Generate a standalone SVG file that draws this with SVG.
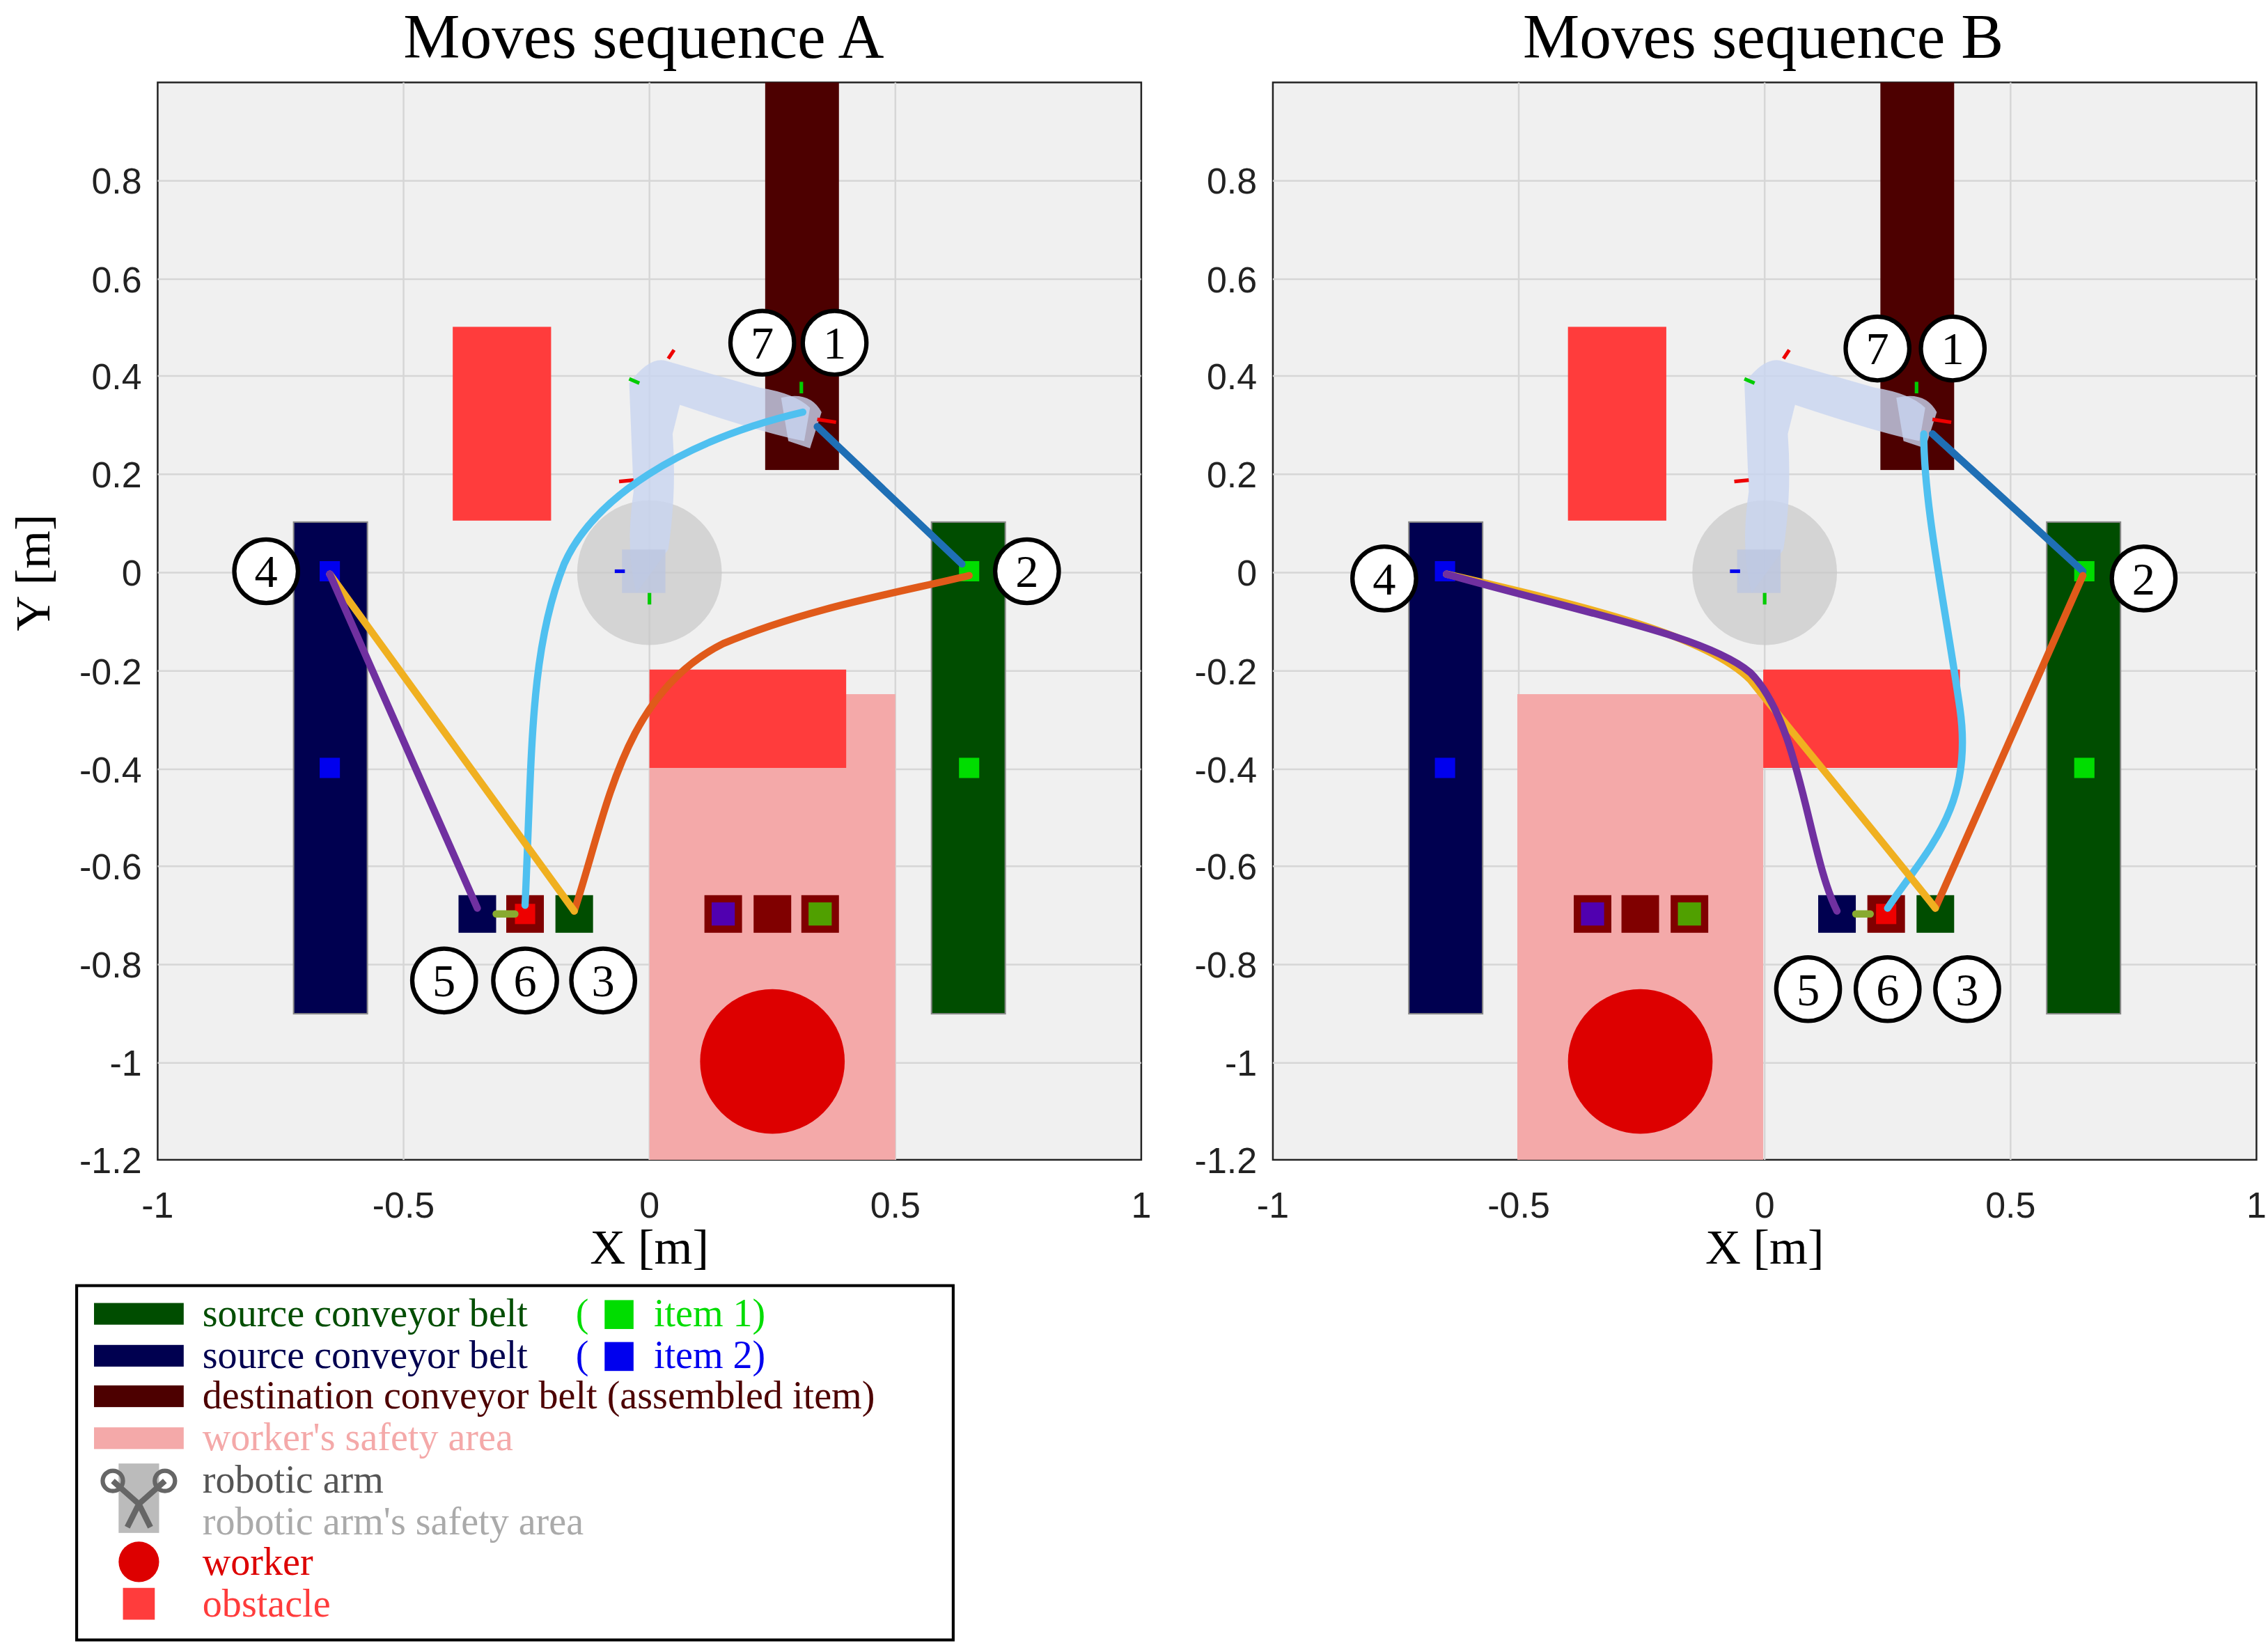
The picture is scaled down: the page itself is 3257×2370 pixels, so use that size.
<svg xmlns="http://www.w3.org/2000/svg" width="3257" height="2370" viewBox="0 0 3257 2370">
<style>
.bg{fill:#f0f0f0;stroke:#222;stroke-width:1.2}
.grid{stroke:#d6d6d6;stroke-width:1.2}
.tick{font-family:"Liberation Sans",Arial,sans-serif;font-size:25px;fill:#222}
.ttl{font-family:"Liberation Serif","Times New Roman",serif;font-size:44px;fill:#000}
.ax{font-family:"Liberation Serif","Times New Roman",serif;font-size:34px;fill:#000}
.lbl circle{fill:#fff;stroke:#000;stroke-width:3}
.lbl text{font-family:"Liberation Serif","Times New Roman",serif;font-size:32px;text-anchor:middle;fill:#000}
.lg{font-family:"Liberation Serif","Times New Roman",serif;font-size:27px}
.p{fill:none;stroke-width:5;stroke-linecap:round}
.arm{fill:#c8d4f0;opacity:0.8}
</style>
<defs>
<g id="grid">
<rect class="bg" x="109" y="57" width="680" height="745"/>
<g class="grid">
<line x1="279" y1="57" x2="279" y2="802"/><line x1="449" y1="57" x2="449" y2="802"/><line x1="619" y1="57" x2="619" y2="802"/>
<line x1="109" y1="125" x2="789" y2="125"/><line x1="109" y1="193" x2="789" y2="193"/><line x1="109" y1="260" x2="789" y2="260"/><line x1="109" y1="328" x2="789" y2="328"/><line x1="109" y1="396" x2="789" y2="396"/><line x1="109" y1="464" x2="789" y2="464"/><line x1="109" y1="532" x2="789" y2="532"/><line x1="109" y1="599" x2="789" y2="599"/><line x1="109" y1="667" x2="789" y2="667"/><line x1="109" y1="735" x2="789" y2="735"/>
</g>
<g class="tick" text-anchor="end">
<text x="98" y="134">0.8</text><text x="98" y="202">0.6</text><text x="98" y="269">0.4</text><text x="98" y="337">0.2</text><text x="98" y="405">0</text><text x="98" y="473">-0.2</text><text x="98" y="541">-0.4</text><text x="98" y="608">-0.6</text><text x="98" y="676">-0.8</text><text x="98" y="744">-1</text><text x="98" y="811">-1.2</text>
</g>
<g class="tick" text-anchor="middle">
<text x="109" y="842">-1</text><text x="279" y="842">-0.5</text><text x="449" y="842">0</text><text x="619" y="842">0.5</text><text x="789" y="842">1</text>
</g>
<text class="ax" x="449" y="874" text-anchor="middle">X [m]</text>
</g>
<g id="common">
<rect x="529" y="57" width="51" height="268" fill="#4d0000"/>
<rect x="203" y="361" width="51" height="340" fill="#000050" stroke="#888" stroke-width="1"/>
<rect x="644" y="361" width="51" height="340" fill="#004d00" stroke="#888" stroke-width="1"/>
<rect x="221" y="388" width="14" height="14" fill="#0000ee"/><rect x="221" y="524" width="14" height="14" fill="#0000ee"/>
<rect x="663" y="388" width="14" height="14" fill="#00dd00"/><rect x="663" y="524" width="14" height="14" fill="#00dd00"/>
<circle cx="449" cy="396" r="50" fill="#c8c8c8" opacity="0.7"/>
<path class="arm" d="M435,265 Q450,245 462,250 L525,268 Q550,272 560,282 L556,305 Q530,300 470,280 L465,300 Q468,340 462,380 L440,410 Q432,380 438,340 Z"/>
<rect x="430" y="380" width="30" height="30" fill="#bcc6e0" opacity="0.8"/>
<path class="arm" d="M540,275 Q560,270 568,285 L560,310 L545,305 Z"/>
<g stroke-width="2.5"><line x1="435" y1="262" x2="442" y2="265" stroke="#00cc00"/><line x1="462" y1="248" x2="466" y2="242" stroke="#ee0000"/><line x1="428" y1="333" x2="438" y2="332" stroke="#ee0000"/><line x1="554" y1="264" x2="554" y2="272" stroke="#00cc00"/><line x1="565" y1="290" x2="578" y2="292" stroke="#ee0000"/><line x1="449" y1="410" x2="449" y2="418" stroke="#00cc00"/><line x1="425" y1="395" x2="432" y2="395" stroke="#0000ee"/></g>
</g>
</defs>

<text class="ttl" x="445" y="40" text-anchor="middle" transform="scale(2.0772)">Moves sequence A</text>
<text class="ttl" x="1219" y="40" text-anchor="middle" transform="scale(2.0772)">Moves sequence B</text>

<g transform="scale(2.0772)">
<g id="plotA">
<use href="#grid"/>
<text class="ax" transform="translate(34,396) rotate(-90)" text-anchor="middle">Y [m]</text>
<rect x="449" y="480" width="170" height="322" fill="#f4a9a9"/>
<rect x="313" y="226" width="68" height="134" fill="#ff3c3c"/>
<rect x="449" y="463" width="136" height="68" fill="#ff3c3c"/>
<circle cx="534" cy="734" r="50" fill="#dd0000"/>
<use href="#common"/>
<rect x="317" y="619" width="26" height="26" fill="#000050"/><rect x="350" y="619" width="26" height="26" fill="#800000"/><rect x="356" y="625" width="14" height="14" fill="#ee0000"/><rect x="384" y="619" width="26" height="26" fill="#004d00"/>
<rect x="487" y="619" width="26" height="26" fill="#800000"/><rect x="492" y="624" width="16" height="16" fill="#5000b0"/><rect x="521" y="619" width="26" height="26" fill="#800000"/><rect x="554" y="619" width="26" height="26" fill="#800000"/><rect x="559" y="624" width="16" height="16" fill="#50a000"/>
</g>
<g id="plotB" transform="translate(771,0)">
<use href="#grid"/>
<rect x="278" y="480" width="170" height="322" fill="#f4a9a9"/>
<rect x="313" y="226" width="68" height="134" fill="#ff3c3c"/>
<rect x="448" y="463" width="136" height="68" fill="#ff3c3c"/>
<circle cx="363" cy="734" r="50" fill="#dd0000"/>
<use href="#common"/>
<rect x="317" y="619" width="26" height="26" fill="#800000"/><rect x="322" y="624" width="16" height="16" fill="#5000b0"/><rect x="350" y="619" width="26" height="26" fill="#800000"/><rect x="384" y="619" width="26" height="26" fill="#800000"/><rect x="389" y="624" width="16" height="16" fill="#50a000"/>
<rect x="486" y="619" width="26" height="26" fill="#000050"/><rect x="520" y="619" width="26" height="26" fill="#800000"/><rect x="526" y="625" width="14" height="14" fill="#ee0000"/><rect x="554" y="619" width="26" height="26" fill="#004d00"/>
</g>
<g id="connectors">
<path class="p" stroke="#4fc0f0" d="M363,626 C368,520 366,450 390,390 C410,345 470,305 555,285"/>
<path class="p" stroke="#1f6fb5" d="M565,295 L665,390"/>
<path class="p" stroke="#e05a1a" d="M397,630 C420,560 430,480 500,445 C560,420 620,410 670,398"/>
<path class="p" stroke="#f0b020" d="M228,397 L397,630"/>
<path class="p" stroke="#7030a0" d="M228,397 L330,628"/>
<path class="p" stroke="#88aa30" d="M343,632 L356,632"/>
<path class="p" stroke="#4fc0f0" d="M1305,628 C1330,590 1365,560 1355,490 C1345,420 1330,350 1330,300"/>
<path class="p" stroke="#1f6fb5" d="M1336,300 L1440,395"/>
<path class="p" stroke="#e05a1a" d="M1338,628 L1440,398"/>
<path class="p" stroke="#f0b020" d="M1000,397 C1100,420 1180,440 1210,470 C1250,520 1300,580 1338,628"/>
<path class="p" stroke="#7030a0" d="M1000,397 C1100,425 1180,440 1210,465 C1245,500 1250,590 1270,630"/>
<path class="p" stroke="#88aa30" d="M1283,632 L1293,632"/>
</g>
<g id="labels" class="lbl">
<circle cx="527" cy="237" r="22"/><text x="527" y="248">7</text>
<circle cx="577" cy="237" r="22"/><text x="577" y="248">1</text>
<circle cx="184" cy="395" r="22"/><text x="184" y="406">4</text>
<circle cx="710" cy="395" r="22"/><text x="710" y="406">2</text>
<circle cx="307" cy="678" r="22"/><text x="307" y="689">5</text>
<circle cx="363" cy="678" r="22"/><text x="363" y="689">6</text>
<circle cx="417" cy="678" r="22"/><text x="417" y="689">3</text>
<circle cx="1298" cy="241" r="22"/><text x="1298" y="252">7</text>
<circle cx="1350" cy="241" r="22"/><text x="1350" y="252">1</text>
<circle cx="957" cy="400" r="22"/><text x="957" y="411">4</text>
<circle cx="1482" cy="400" r="22"/><text x="1482" y="411">2</text>
<circle cx="1250" cy="684" r="22"/><text x="1250" y="695">5</text>
<circle cx="1305" cy="684" r="22"/><text x="1305" y="695">6</text>
<circle cx="1360" cy="684" r="22"/><text x="1360" y="695">3</text>
</g>
<g id="legend">
<rect x="53" y="889" width="606" height="245" fill="#fff" stroke="#000" stroke-width="2"/>
<rect x="65" y="901" width="62" height="15" fill="#004d00"/>
<rect x="65" y="930" width="62" height="15" fill="#000050"/>
<rect x="65" y="958" width="62" height="15" fill="#4d0000"/>
<rect x="65" y="987" width="62" height="15" fill="#f4a9a9"/>
<rect x="418" y="899" width="20" height="20" fill="#00dd00"/>
<rect x="418" y="928" width="20" height="20" fill="#0000ee"/>
<g fill="#999"><rect x="82" y="1012" width="28" height="48" fill="#bbb"/><circle cx="78" cy="1024" r="7" fill="none" stroke="#666" stroke-width="3"/><circle cx="114" cy="1024" r="7" fill="none" stroke="#666" stroke-width="3"/><path d="M78,1024 L96,1040 L114,1024 M96,1040 L88,1056 M96,1040 L104,1056" stroke="#666" stroke-width="4" fill="none"/></g>
<circle cx="96" cy="1080" r="14" fill="#dd0000"/>
<rect x="85" y="1098" width="22" height="22" fill="#ff3c3c"/>
<text class="lg" x="140" y="917" fill="#004d00">source conveyor belt</text><text class="lg" x="398" y="917" fill="#00dd00">(</text><text class="lg" x="452" y="917" fill="#00dd00">item 1)</text>
<text class="lg" x="140" y="946" fill="#000050">source conveyor belt</text><text class="lg" x="398" y="946" fill="#0000ee">(</text><text class="lg" x="452" y="946" fill="#0000ee">item 2)</text>
<text class="lg" x="140" y="974" fill="#4d0000">destination conveyor belt (assembled item)</text>
<text class="lg" x="140" y="1003" fill="#f4a9a9">worker's safety area</text>
<text class="lg" x="140" y="1032" fill="#555">robotic arm</text>
<text class="lg" x="140" y="1061" fill="#aaa">robotic arm's safety area</text>
<text class="lg" x="140" y="1089" fill="#dd0000">worker</text>
<text class="lg" x="140" y="1118" fill="#ff3c3c">obstacle</text>
</g>
</g>
</svg>
